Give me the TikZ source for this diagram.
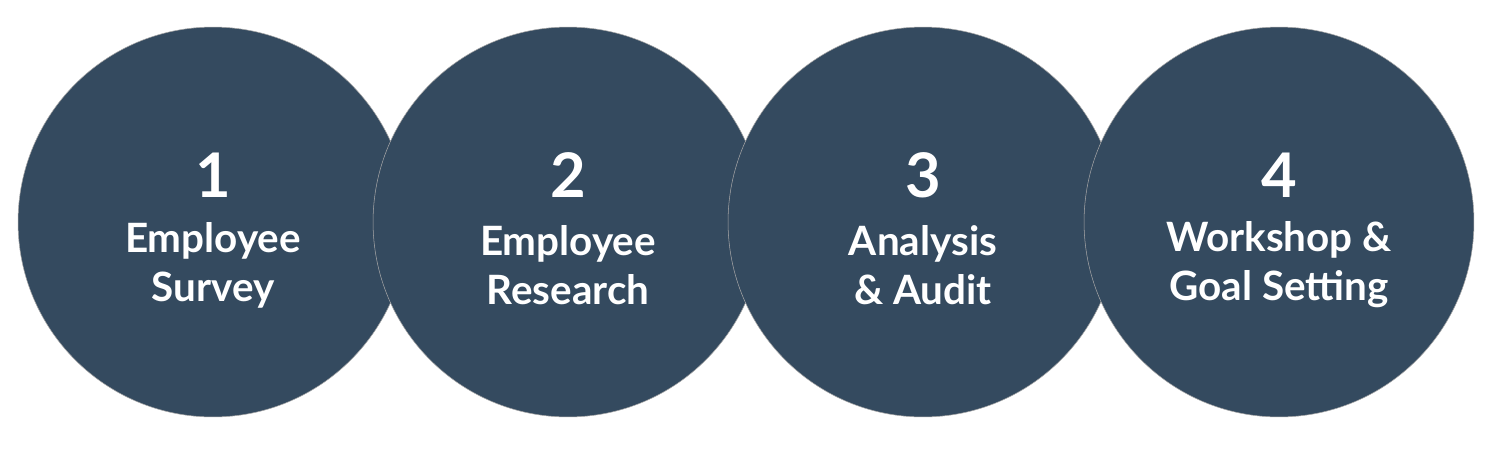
\documentclass[tikz,border=0pt]{standalone}
\usepackage{fontspec}
\setmainfont{Lato}
\definecolor{circ}{HTML}{344A5F}
\begin{document}
\begin{tikzpicture}[x=0.02cm,y=-0.02cm,
  stage/.style={circle,fill=circ,draw=black!35,line width=0.3pt,minimum size=7.8cm,inner sep=0pt},
  num/.style={text=white,font=\bfseries\fontsize{35}{40}\selectfont},
  lab/.style={text=white,font=\bfseries\fontsize{23}{28}\selectfont,align=center}]
\useasboundingbox[fill=white] (0,0) rectangle (1500,450);
\foreach \i/\x in {1/213,2/568,3/923,4/1279}{
  \node[stage] (c\i) at (\x,222) {};
}
\node[num] (n1) at (213,175) {1};
\node[lab] (l1) at (213,265) {Employee\\Survey};
\node[num] (n2) at (568,175) {2};
\node[lab] (l2) at (568,265) {Employee\\Research};
\node[num] (n3) at (923,175) {3};
\node[lab] (l3) at (923,265) {Analysis\\\& Audit};
\node[num] (n4) at (1279,175) {4};
\node[lab] (l4) at (1279,265) {Workshop \&\\Goal Setting};
\end{tikzpicture}
\end{document}
